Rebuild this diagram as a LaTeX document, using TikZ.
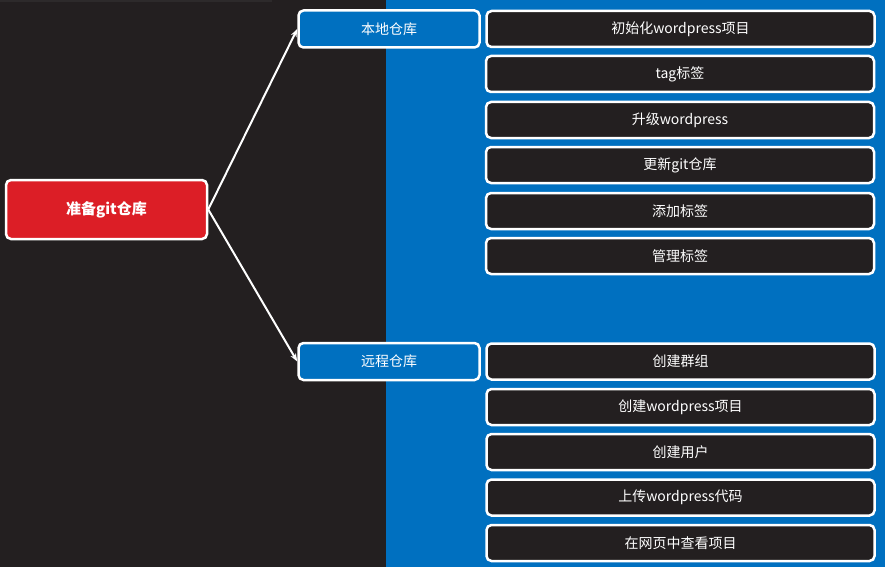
\documentclass[tikz,border=0pt]{standalone}
\usepackage{fontspec}
\setmainfont{Noto Sans CJK SC}
\usetikzlibrary{arrows.meta}
\definecolor{dk}{RGB}{35,31,32}
\definecolor{bl}{RGB}{0,112,192}
\definecolor{rd}{RGB}{220,30,38}
\definecolor{strip}{RGB}{45,42,43}
\begin{document}
\begin{tikzpicture}[x=1pt,y=-1pt,
 box/.style={draw=white,line width=2.5pt,rounded corners=5pt,text=white,font=\fontsize{14}{16}\selectfont,inner sep=0pt,align=center},
 item/.style={box,fill=dk,minimum width=388pt,minimum height=36pt},
 sub/.style={box,fill=bl,minimum width=181pt,minimum height=37pt},
 conn/.style={draw=white,line width=2pt,-{Stealth[length=8pt,width=6pt]}}]
\useasboundingbox (0,0) rectangle (885,567);
\fill[dk] (0,0) rectangle (386,567);
\fill[bl] (386,0) rectangle (885,567);
\fill[strip] (0,0) rectangle (272,2);
\node[box,fill=rd,minimum width=201pt,minimum height=59pt,font=\fontsize{15}{17}\selectfont\bfseries] (root) at (106.5,209.5) {准备git仓库};
\node[sub] (local) at (389,29) {本地仓库};
\node[sub] (remote) at (389,361.5) {远程仓库};
\draw[conn] (root.east) -- (local.west);
\draw[conn] (root.east) -- (remote.west);
\node[item] (a1) at (680.5,29) {初始化wordpress项目};
\node[item] (a2) at (680,74) {tag标签};
\node[item] (a3) at (680,120) {升级wordpress};
\node[item] (a4) at (680,165) {更新git仓库};
\node[item] (a5) at (680,211) {添加标签};
\node[item] (a6) at (680,256) {管理标签};
\node[item] (b1) at (680.5,361.5) {创建群组};
\node[item] (b2) at (680.5,407) {创建wordpress项目};
\node[item] (b3) at (680.5,452) {创建用户};
\node[item] (b4) at (680.5,497.5) {上传wordpress代码};
\node[item] (b5) at (680.5,543) {在网页中查看项目};
\end{tikzpicture}
\end{document}
